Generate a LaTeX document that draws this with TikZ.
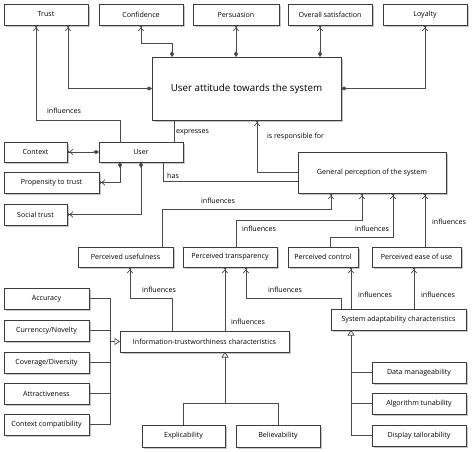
\documentclass[tikz,border=0pt]{standalone}
\usepackage{fontspec}
\setmainfont{Open Sans}
\usetikzlibrary{arrows.meta,shadows}
\definecolor{ln}{HTML}{4a4a4a}
\definecolor{bd}{HTML}{3c3c3c}
\tikzset{
  x=1pt,y=-1pt,
  box/.style={draw=bd,line width=0.8pt,fill=white,inner sep=0pt,outer sep=0pt,
    font=\fontsize{7.1}{8}\selectfont,
    drop shadow={shadow xshift=1.6pt,shadow yshift=-1.6pt,fill=black!40,opacity=0.55}},
  conn/.style={draw=ln,line width=0.7pt},
  bdot/.style={conn,-{Straight Barb[length=3pt,width=5.5pt,line width=0.7pt]Circle[length=2.4pt]}},
  diabdot/.style={conn,{Diamond[length=6pt,width=4pt]}-{Straight Barb[length=3pt,width=5.5pt,line width=0.7pt]Circle[length=2.4pt]}},
  tri/.style={conn,-{Triangle[open,length=5.5pt,width=7pt,fill=white]}},
  lab/.style={font=\fontsize{7.1}{8}\selectfont,inner sep=0pt,text=black},
}
\newcommand{\bx}[6][]{\node[box,#1,minimum width={(#4-#2)*1pt},minimum height={(#5-#3)*1pt}] (#6) at ({(#2+#4)/2},{(#3+#5)/2})}
\begin{document}
\begin{tikzpicture}
\useasboundingbox (0,0) rectangle (474,452);
% top row
\bx{4}{4}{88}{25}{Trust} {Trust};
\bx{99}{4}{183}{25}{Conf} {Confidence};
\bx{193}{4}{279}{25}{Pers} {Persuasion};
\bx{288}{4}{372}{25}{Sat} {Overall satisfaction};
\bx{383}{4}{467}{25}{Loy} {Loyalty};
\bx[font=\fontsize{9.8}{11}\selectfont]{152}{57}{341}{120}{Att} {User attitude towards the system};
% user
\bx{99}{142}{183}{162}{User} {User};
\bx{4}{142}{67}{162}{Ctx} {Context};
\bx{4}{172}{99}{193}{Prop} {Propensity to trust};
\bx{4}{204}{67}{225}{Soc} {Social trust};
\bx{298}{152}{446}{193}{GP} {General perception of the system};
% perceived row
\bx{78}{247}{173}{267}{PU} {Perceived usefulness};
\bx{183}{247}{277}{267}{PT} {Perceived transparency};
\bx{288}{247}{358}{267}{PC} {Perceived control};
\bx{372}{247}{461}{267}{PEU} {Perceived ease of use};
\bx{120}{331}{289}{352}{ITC} {Information-trustworthiness characteristics};
\bx{331}{309}{466}{330}{SAC} {System adaptability characteristics};
% left column
\bx{4}{288}{89}{309}{Acc} {Accuracy};
\bx{4}{320}{89}{341}{Cur} {Currenccy/Novelty};
\bx{4}{352}{89}{373}{Cov} {Coverage/Diversity};
\bx{4}{383}{89}{404}{Attr} {Attractiveness};
\bx{4}{414}{89}{435}{CC} {Context compatibility};
% bottom
\bx{142}{425}{225}{447}{Expl} {Explicability};
\bx{236}{425}{320}{447}{Bel} {Believability};
\bx{372}{362}{466}{383}{DM} {Data manageability};
\bx{372}{393}{466}{414}{AT} {Algorithm tunability};
\bx{372}{425}{466}{446}{DT} {Display tailorability};

% attitude connectors
\draw[bdot] (User.north -| 120,0) |- (36,120) -- (Trust.south -| 36,0);
\node[lab] (l1) at (64,111) {influences};
\draw[diabdot] (Att.west) -| (Trust.south -| 68,0);
\draw[diabdot] (Att.north -| 172,0) |- (141,43) -- (Conf.south -| 141,0);
\draw[diabdot] (Att.north -| Pers.south) -- (Pers.south);
\draw[diabdot] (Att.north -| 320,0) -- (Sat.south -| 320,0);
\draw[diabdot] (Att.east) -| (Loy.south);
% user connectors
\draw[diabdot] (User.west) -- (Ctx.east);
\draw[diabdot] (User.south -| 120,0) |- (Prop.east);
\draw[diabdot] (User.south -| 141,0) |- (Soc.east);
\draw[conn] (Att.south -| 174,0) -- (User.north -| 174,0);
\node[lab,anchor=west] (l2) at (176,132) {expresses};
\draw[conn] (User.south -| 163,0) |- (GP.west |- 0,181);
\node[lab,anchor=west] (l3) at (167,176) {has};
\draw[bdot] (GP.west) -| (Att.south -| 257,0);
\node[lab,anchor=west] (l4) at (267,137) {is responsible for};
% perceived to GP
\draw[bdot] (PU.north -| 162,0) |- (331,209) -- (GP.south -| 331,0);
\node[lab] (l5) at (218,201) {influences};
\draw[bdot] (PT.north -| 236,0) |- (362,220) -- (GP.south -| 362,0);
\node[lab] (l6) at (259,229) {influences};
\draw[bdot] (PC.north -| 330,0) |- (393,237) -- (GP.south -| 393,0);
\node[lab] (l7) at (372,229) {influences};
\draw[bdot] (PEU.north -| 425,0) -- (GP.south -| 425,0);
\node[lab] (l8) at (449,222) {influences};
% ITC and SAC to perceived
\draw[bdot] (ITC.north -| 172,0) |- (130,298) -- (PU.south -| 130,0);
\node[lab] (l9) at (159,290) {influences};
\draw[bdot] (ITC.north -| 225,0) -- (PT.south -| 225,0);
\node[lab] (l10) at (248,322) {influences};
\draw[bdot] (SAC.north -| 341,0) |- (246,298) -- (PT.south -| 246,0);
\node[lab] (l11) at (285,290) {influences};
\draw[bdot] (SAC.north -| 351,0) -- (PC.south -| 351,0);
\node[lab] (l12) at (375,295) {influences};
\draw[bdot] (SAC.north -| 414,0) -- (PEU.south -| 414,0);
\node[lab] (l13) at (438,295) {influences};
% generalisations
\coordinate (lb) at (110,341.5);
\foreach \n in {Acc,Cur,Cov,Attr,CC} \draw[conn] (\n.east) -| (lb);
\draw[tri] (lb) -- (ITC.west);
\coordinate (eb) at (225,403);
\draw[conn] (Expl.north) |- (eb);
\draw[conn] (Bel.north) |- (eb);
\draw[tri] (eb) -- (ITC.south -| 225,0);
\coordinate (sb) at (351,345);
\foreach \n in {DM,AT,DT} \draw[conn] (\n.west) -| (sb);
\draw[tri] (sb) -- (SAC.south -| 351,0);
\end{tikzpicture}
\end{document}
